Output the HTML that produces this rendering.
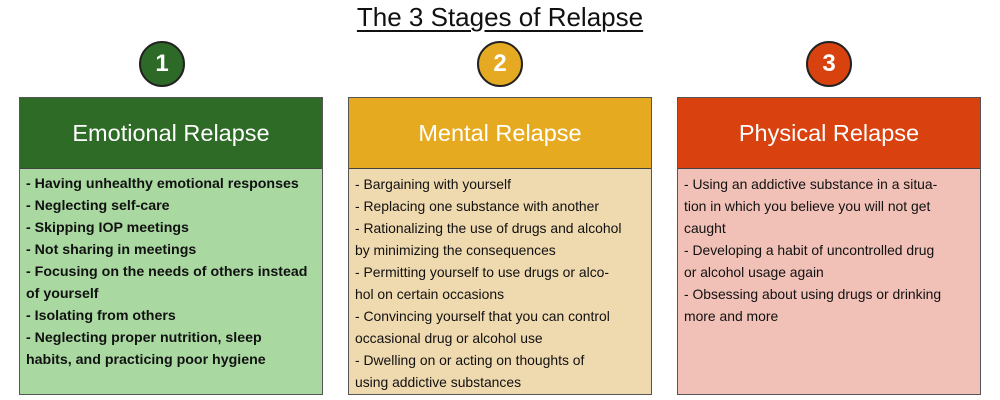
<!DOCTYPE html>
<html><head><style>
body{margin:0;width:1000px;height:400px;background:#fff;position:relative;font-family:"Liberation Sans",sans-serif;overflow:hidden}
.t{position:absolute;left:0;width:1000px;top:2px;text-align:center;font-size:26px;color:#111;text-decoration:underline;text-underline-offset:4px;text-decoration-thickness:2px}
.c{position:absolute;top:41px;width:42px;height:42px;border-radius:50%;border:2px solid #222;color:#fff;font-weight:bold;font-size:24px;text-align:center;line-height:42px}
.b{position:absolute;top:97px;width:302px;height:296px;border:1px solid #555}
.h{height:70px;border-bottom:1px solid #444;color:#fff;font-size:23.5px;text-align:center;line-height:70px}
.x{padding:4px 6px;font-size:13.9px;line-height:22px;color:#111;white-space:nowrap}
</style></head><body>
<div class="t">The 3 Stages of Relapse</div>
<div class="c" style="left:139px;background:#2d6a27">1</div>
<div class="c" style="left:477px;background:#e5aa22">2</div>
<div class="c" style="left:806px;background:#d8420f">3</div>
<div class="b" style="left:19px;background:#a9d9a1"><div class="h" style="background:#2e6b26">Emotional Relapse</div>
<div class="x" style="font-weight:bold;font-size:14.2px">- Having unhealthy emotional responses<br>- Neglecting self-care<br>- Skipping IOP meetings<br>- Not sharing in meetings<br>- Focusing on the needs of others instead<br>of yourself<br>- Isolating from others<br>- Neglecting proper nutrition, sleep<br>habits, and practicing poor hygiene</div></div>
<div class="b" style="left:348px;background:#efd9af"><div class="h" style="background:#e6aa20">Mental Relapse</div>
<div class="x">- Bargaining with yourself<br>- Replacing one substance with another<br>- Rationalizing the use of drugs and alcohol<br>by minimizing the consequences<br>- Permitting yourself to use drugs or alco-<br>hol on certain occasions<br>- Convincing yourself that you can control<br>occasional drug or alcohol use<br>- Dwelling on or acting on thoughts of<br>using addictive substances</div></div>
<div class="b" style="left:677px;background:#f1c0b7"><div class="h" style="background:#d9420f">Physical Relapse</div>
<div class="x">- Using an addictive substance in a situa-<br>tion in which you believe you will not get<br>caught<br>- Developing a habit of uncontrolled drug<br>or alcohol usage again<br>- Obsessing about using drugs or drinking<br>more and more</div></div>
</body></html>
